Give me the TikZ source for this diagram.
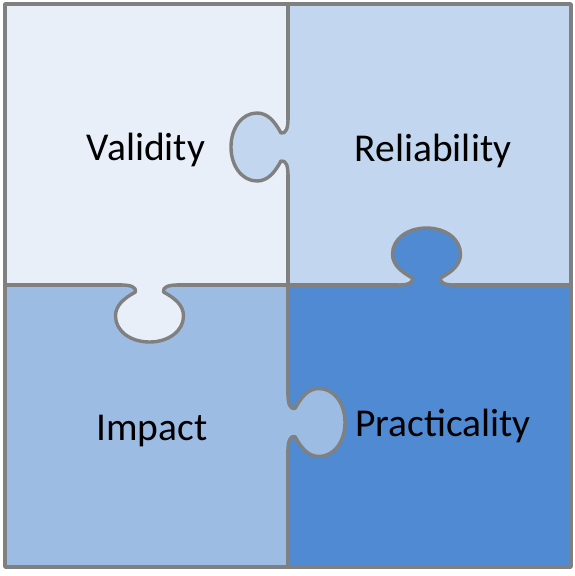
\documentclass[tikz,border=0pt]{standalone}
\usepackage{fontspec}
\setmainfont{Carlito}
\definecolor{cval}{HTML}{E9EFF8}
\definecolor{crel}{HTML}{C2D6EF}
\definecolor{cimp}{HTML}{9CBCE4}
\definecolor{cpra}{HTML}{4F8AD2}
\definecolor{edge}{HTML}{808080}
\def\tabpath{(-28,0) .. controls (-19,0) and (-13,2) .. (-14,7)
  .. controls (-25,13) and (-34,20) .. (-34,31)
  .. controls (-34,46) and (-19,57) .. (0,57)
  .. controls (19,57) and (34,46) .. (34,31)
  .. controls (34,20) and (25,13) .. (14,7)
  .. controls (13,2) and (19,0) .. (28,0)}
\tikzset{
  edgeline/.style={draw=edge, line width=3.4pt, line cap=round, line join=round},
  label/.style={font=\fontsize{39.5}{47}\selectfont, text=black, anchor=base, inner sep=0pt}
}
\begin{document}
\begin{tikzpicture}[x=1pt, y=-1pt]
\useasboundingbox (0,0) rectangle (575,576);
% quadrant fills
\fill[cval] (5,4) rectangle (288,285);
\fill[crel] (288,4) rectangle (571,285);
\fill[cimp] (5,285) rectangle (288,567);
\fill[cpra] (288,285) rectangle (571,567);
% tab fills
\begin{scope}[shift={(288,147)}, rotate=-90]
  \fill[crel] \tabpath -- cycle;
\end{scope}
\begin{scope}[shift={(426.5,285)}, rotate=180]
  \fill[cpra] \tabpath -- cycle;
\end{scope}
\begin{scope}[shift={(149.5,285)}]
  \fill[cval] \tabpath -- cycle;
\end{scope}
\begin{scope}[shift={(288,422.5)}, rotate=90]
  \fill[cimp] \tabpath -- cycle;
\end{scope}
% tab outlines
\begin{scope}[shift={(288,147)}, rotate=-90]
  \draw[edgeline] \tabpath;
\end{scope}
\begin{scope}[shift={(426.5,285)}, rotate=180]
  \draw[edgeline] \tabpath;
\end{scope}
\begin{scope}[shift={(149.5,285)}]
  \draw[edgeline] \tabpath;
\end{scope}
\begin{scope}[shift={(288,422.5)}, rotate=90]
  \draw[edgeline] \tabpath;
\end{scope}
% dividers
\draw[edgeline] (288,4) -- (288,119);
\draw[edgeline] (288,175) -- (288,394.5);
\draw[edgeline] (288,450.5) -- (288,567);
\draw[edgeline] (5,285) -- (121.5,285);
\draw[edgeline] (177.5,285) -- (398.5,285);
\draw[edgeline] (454.5,285) -- (571,285);
% frame
\draw[edgeline] (5,4) rectangle (571,567);
% labels
\node[label] (val) at (146,160) {Validity};
\node[label] (rel) at (433,161) {Reliability};
\node[label] (imp) at (152,440) {Impact};
\node[label] (pra) at (443,436) {Practicality};
\end{tikzpicture}
\end{document}
